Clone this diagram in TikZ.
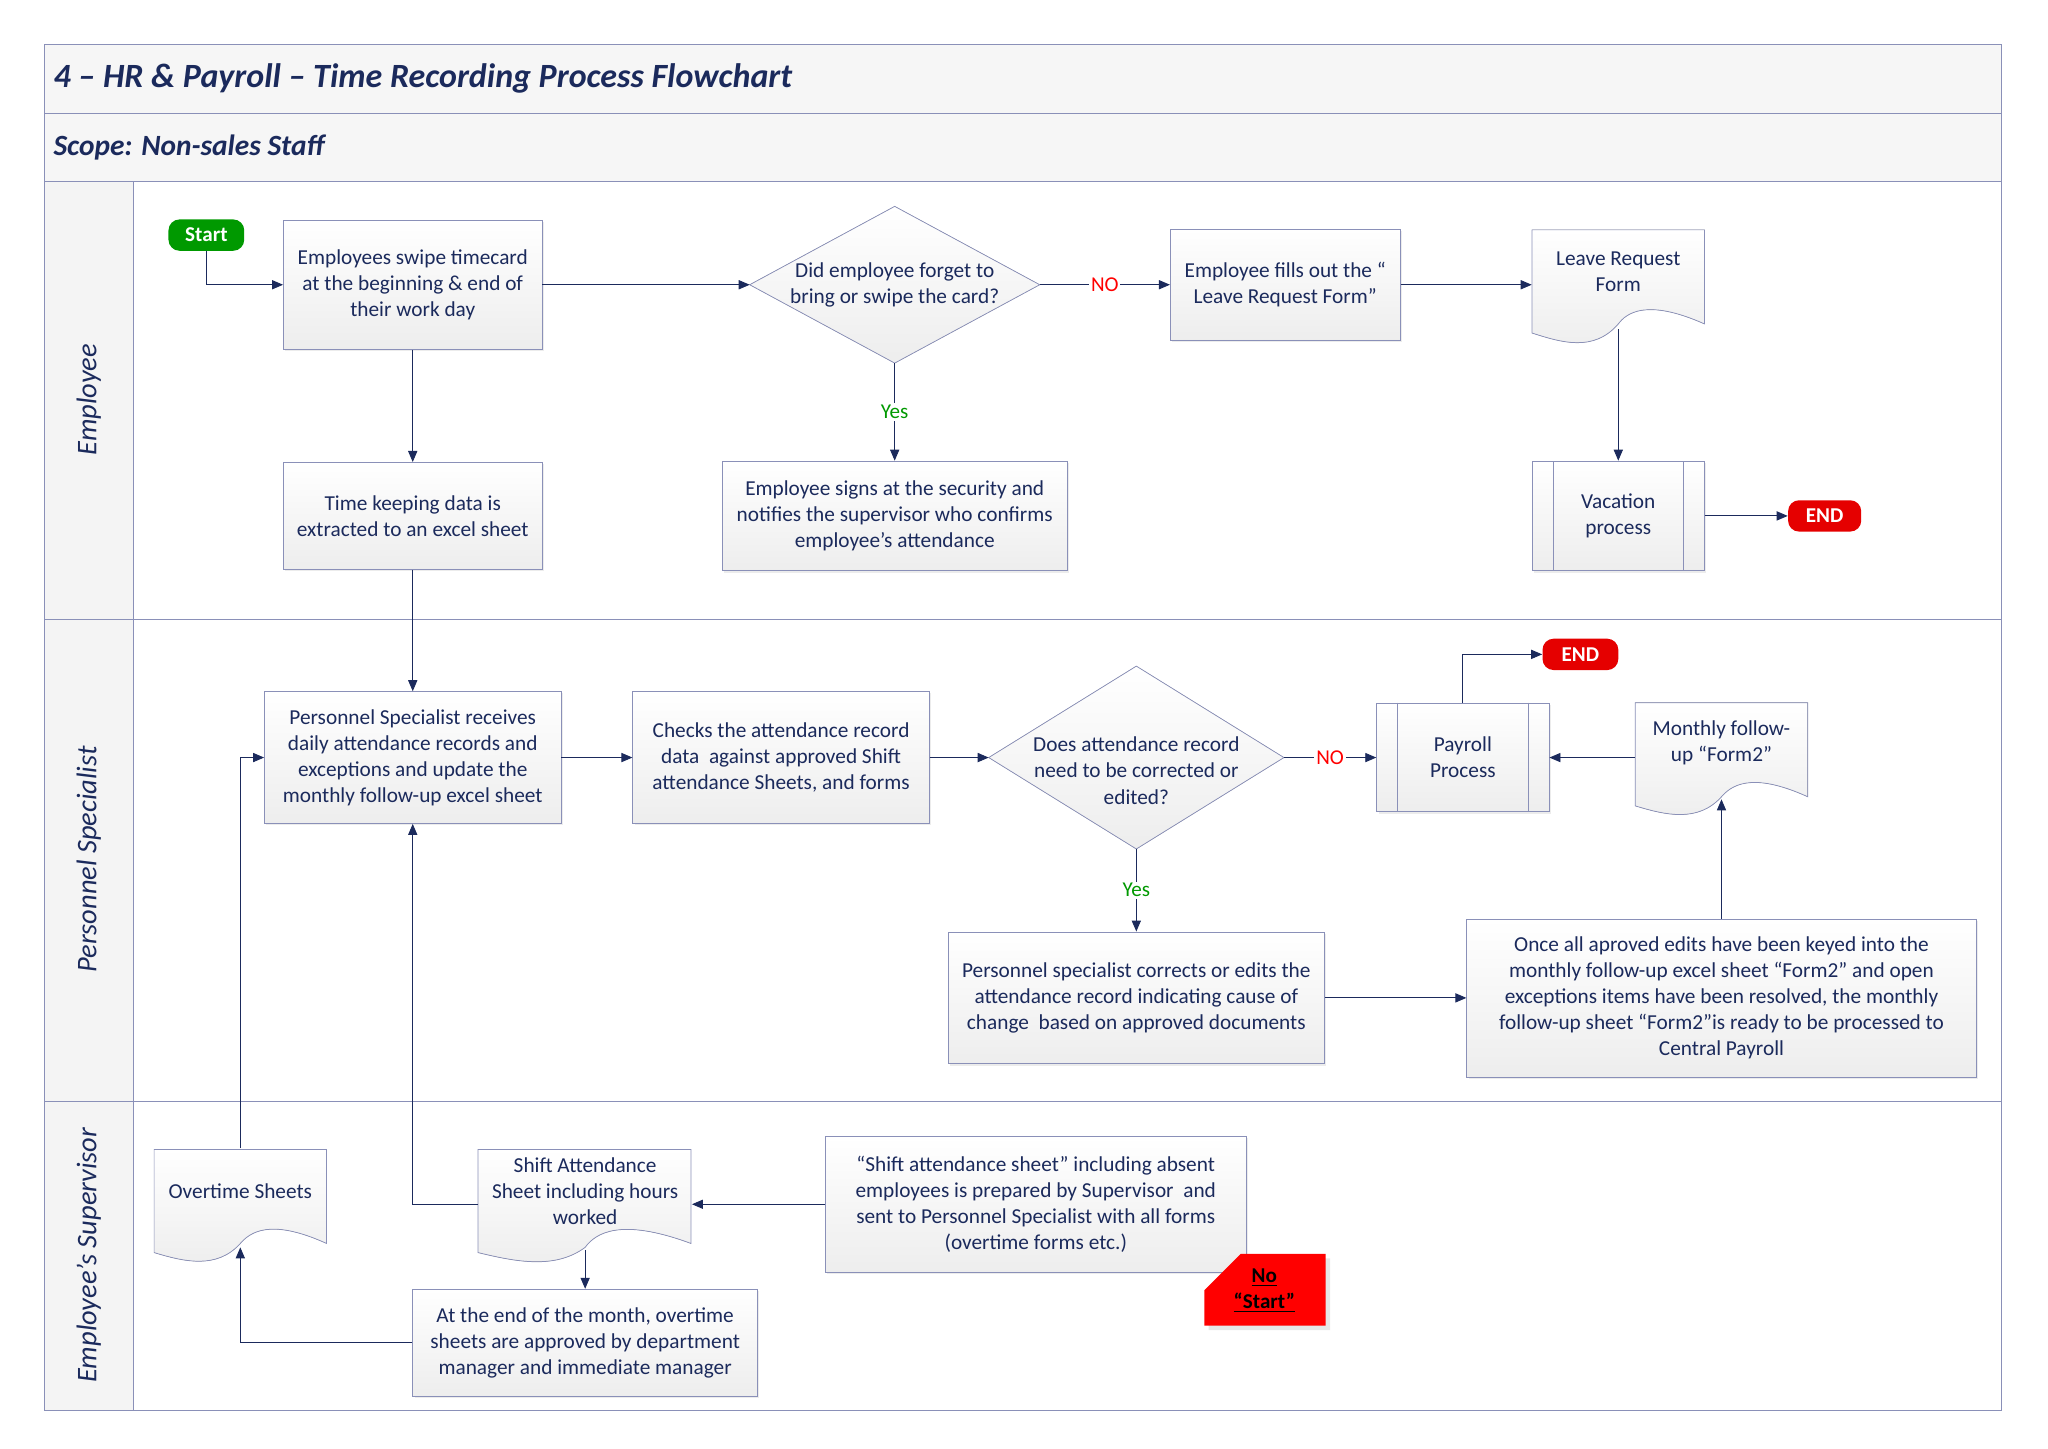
\documentclass[tikz,border=0pt]{standalone}
\usepackage{fontspec}
\setmainfont{Carlito}
\usetikzlibrary{arrows.meta,calc,shadows}
\definecolor{navy}{HTML}{1B2A5C}
\definecolor{lineb}{HTML}{8A90B8}
\begin{document}
\begin{tikzpicture}[x=0.25mm,y=-0.25mm,
  every node/.style={text=navy,font=\fontsize{11.6}{14.2}\selectfont,align=center},
  sz/.style 2 args={minimum width=#1*0.25mm,minimum height=#2*0.25mm,inner sep=0pt},
  box/.style={draw=lineb,top color=white,bottom color=gray!14,drop shadow={opacity=0.15,shadow xshift=1pt,shadow yshift=-1pt}},
  term/.style={rounded corners=6pt,text=white,font=\fontsize{11.5}{13}\selectfont\bfseries,inner sep=0pt},
  arr/.style={draw=navy,-{Triangle[length=6pt,width=5pt]},line width=0.5pt},
  shp/.style={draw=lineb,top color=white,bottom color=gray!14},
  lbl/.style={fill=white,inner sep=1pt,font=\fontsize{11.5}{13}\selectfont},
  lane/.style={rotate=90,font=\fontsize{15.5}{18}\selectfont\itshape}]
\useasboundingbox (0,0) rectangle (1568,1109);
% frame and bands
\fill[gray!7] (34,34) rectangle (1532,139);
\fill[gray!9] (34,139) rectangle (102,1080);
\draw[lineb] (34,34) rectangle (1532,1080);
\draw[lineb] (34,87) -- (1532,87) (34,139) -- (1532,139) (34,474) -- (1532,474) (34,843) -- (1532,843) (102,139) -- (102,1080);
\node[anchor=west,font=\fontsize{18.5}{20}\selectfont\bfseries\itshape] (title) at (36,60) {4 – HR \& Payroll – Time Recording Process Flowchart};
\node[anchor=west,font=\fontsize{16}{18}\selectfont\bfseries\itshape] (scope) at (36,113) {Scope: Non-sales Staff};
\node[lane] (l1) at (68,306) {Employee};
\node[lane] (l2) at (68,658) {Personnel Specialist};
\node[lane] (l3) at (68,961) {Employee’s Supervisor};

% Employee lane
\node[term,fill=green!60!black,sz={58}{24}] (start) at (158,180) {Start};
\node[box,sz={198}{99}] (swipe) at (316,218) {Employees swipe timecard\\at the beginning \& end of\\their work day};
\filldraw[shp] (574,218) -- (685,158) -- (796,218) -- (685,278) -- cycle;
\node (d1) at (685,218) {Did employee forget to\\bring or swipe the card?};
\coordinate (d1w) at (574,218); \coordinate (d1e) at (796,218);
\coordinate (d1n) at (685,158); \coordinate (d1s) at (685,278);
\node[box,sz={176}{85}] (fill) at (984,218) {Employee fills out the “\\Leave Request Form”};
% leave request form document
\node[sz={132}{84},draw=none] (lrf) at (1239,218) {};
\filldraw[shp] (1173,176) -- (1305,176) -- (1305,248) .. controls (1260,228) and (1245,240) .. (1239,248) .. controls (1220,270) and (1195,262) .. (1173,255) -- cycle;
\node (lrft) at (1239,208) {Leave Request\\Form};
\coordinate (lrfb) at (1239,252);
\node[box,sz={132}{84}] (vac) at (1239,395) {Vacation\\process};
\draw[lineb] (1189,353) -- (1189,437) (1289,353) -- (1289,437);
\node[term,fill=red!90!black,sz={56}{24}] (end1) at (1397,395) {END};
\node[box,sz={198}{82}] (tk) at (316,395) {Time keeping data is\\extracted to an excel sheet};
\node[box,sz={264}{84}] (signs) at (685,395) {Employee signs at the security and\\notifies the supervisor who confirms\\employee’s attendance};

\draw[arr] (start.south) |- (swipe.west);
\draw[arr] (swipe.east) -- (d1w);
\draw[arr] (d1e) -- node[lbl,text=red] {NO} (fill.west);
\draw[arr] (fill.east) -- (lrf.west);
\draw[arr] (lrfb) -- (vac.north);
\draw[arr] (vac.east) -- (end1.west);
\draw[arr] (swipe.south) -- (tk.north);
\draw[arr] (d1s) -- node[lbl,text=green!60!black] {Yes} (signs.north);

% Personnel lane
\node[box,sz={227}{101}] (recv) at (316,580) {Personnel Specialist receives\\daily attendance records and\\exceptions and update the\\monthly follow-up excel sheet};
\node[box,sz={227}{101}] (chk) at (598,580) {Checks the attendance record\\data\ \ against approved Shift\\attendance Sheets, and forms};
\filldraw[shp] (757,580) -- (870,510) -- (983,580) -- (870,650) -- cycle;
\node (d2) at (870,590) {Does attendance record\\need to be corrected or\\edited?};
\coordinate (d2w) at (757,580); \coordinate (d2e) at (983,580);
\coordinate (d2s) at (870,650);
\node[box,sz={132}{83}] (pay) at (1120,580) {Payroll\\Process};
\draw[lineb] (1070,538) -- (1070,621) (1170,538) -- (1170,621);
\node[term,fill=red!90!black,sz={58}{24}] (end2) at (1210,501) {END};
\node[sz={132}{84},draw=none] (mon) at (1318,580) {};
\filldraw[shp] (1252,538) -- (1384,538) -- (1384,610) .. controls (1340,590) and (1325,602) .. (1318,610) .. controls (1300,630) and (1275,624) .. (1252,617) -- cycle;
\node (mont) at (1318,569) {Monthly follow-\\up “Form2”};
\coordinate (monb) at (1318,612);
\node[box,sz={288}{101}] (corr) at (870,764) {Personnel specialist corrects or edits the\\attendance record indicating cause of\\change\ \ based on approved documents};
\node[box,sz={390}{121}] (once) at (1318,764) {Once all aproved edits have been keyed into the\\monthly follow-up excel sheet “Form2” and open\\exceptions items have been resolved, the monthly\\follow-up sheet “Form2”is ready to be processed to\\Central Payroll};

\draw[arr] (tk.south) -- (recv.north);
\draw[arr] (recv.east) -- (chk.west);
\draw[arr] (chk.east) -- (d2w);
\draw[arr] (d2e) -- node[lbl,text=red] {NO} (pay.west);
\draw[arr] (mon.west) -- (pay.east);
\draw[arr] (pay.north) |- (end2.west);
\draw[arr] (d2s) -- node[lbl,text=green!60!black] {Yes} (corr.north);
\draw[arr] (corr.east) -- (once.west);
\draw[arr] (once.north) -- (monb);

% Supervisor lane
\node[sz={132}{85},draw=none] (ot) at (184,922) {};
\filldraw[shp] (118,880) -- (250,880) -- (250,952) .. controls (206,932) and (191,944) .. (184,952) .. controls (166,972) and (141,966) .. (118,959) -- cycle;
\node (ott) at (184,912) {Overtime Sheets};
\coordinate (otb) at (184,955);
\node[sz={163}{85},draw=none] (sh) at (448,922) {};
\filldraw[shp] (366,880) -- (529,880) -- (529,952) .. controls (475,932) and (456,944) .. (448,955) .. controls (425,972) and (395,966) .. (366,959) -- cycle;
\node (sht) at (448,912) {Shift Attendance\\Sheet including hours\\worked};
\coordinate (shb) at (448,957);
\node[box,sz={322}{104}] (prep) at (793,922) {“Shift attendance sheet” including absent\\employees is prepared by Supervisor\ \ and\\sent to Personnel Specialist with all forms\\(overtime forms etc.)};
\node[box,sz={264}{82}] (eom) at (448,1028) {At the end of the month, overtime\\sheets are approved by department\\manager and immediate manager};
\fill[red,drop shadow={opacity=0.2}] (922,988) -- (950,960) -- (1015,960) -- (1015,1015) -- (922,1015) -- cycle;
\node[text=black,font=\fontsize{11.5}{14}\selectfont\bfseries] (nostart) at (968,988) {\underline{No}\\\underline{“Start”}};

\draw[arr] (ot.north) |- (recv.west);
\draw[arr] (sh.west) -| (recv.south);
\draw[arr] (prep.west) -- (sh.east);
\draw[arr] (shb) -- (eom.north);
\draw[arr] (eom.west) -| (otb);
\end{tikzpicture}
\end{document}
